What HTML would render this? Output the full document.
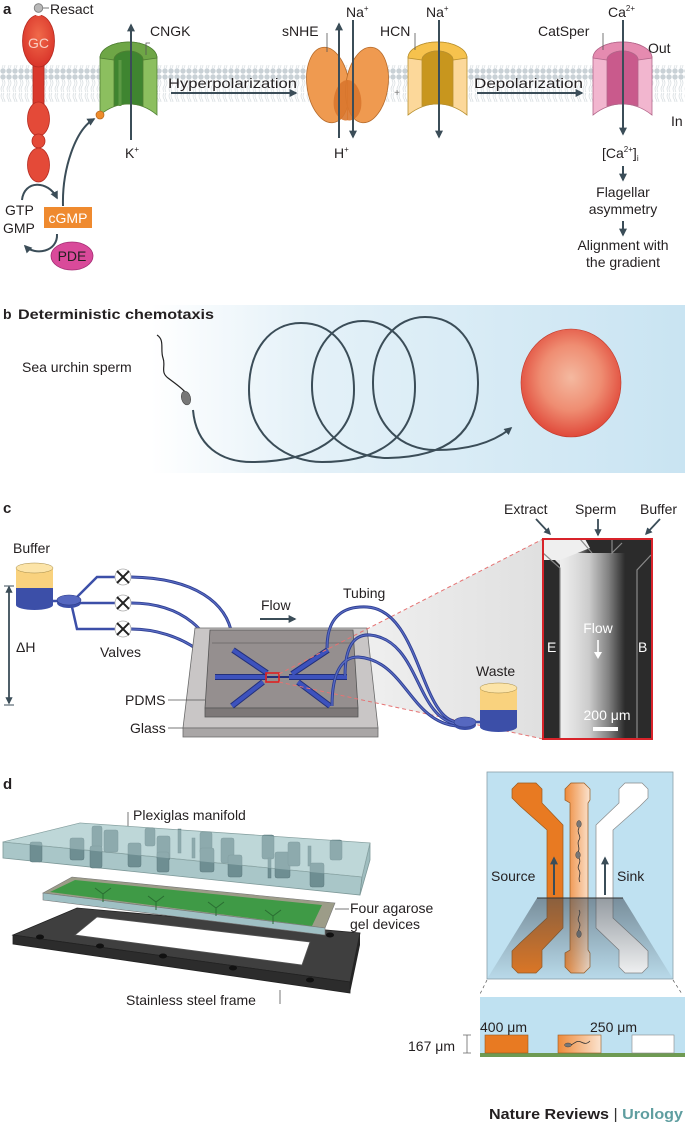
<!DOCTYPE html>
<html><head><meta charset="utf-8"><style>
html,body{margin:0;padding:0;background:#fff}
svg{display:block}
text{font-family:"Liberation Sans",sans-serif;fill:#231f20}
</style></head><body>
<svg width="685" height="1124" viewBox="0 0 685 1124" xmlns="http://www.w3.org/2000/svg">
<defs>
<pattern id="mem" x="0" y="0" width="6" height="37" patternUnits="userSpaceOnUse">
<circle cx="3" cy="3" r="2.7" fill="#c9d1d6"/>
<circle cx="3" cy="34" r="2.7" fill="#c9d1d6"/>
<path d="M2,6 q2,3 0,6 q-2,3 0,6 M4,6 q2,3 0,6 q-2,3 0,6 M2,31 q2,-3 0,-6 q-2,-3 0,-6 M4,31 q2,-3 0,-6 q-2,-3 0,-6" stroke="#d6dce0" stroke-width="0.7" fill="none"/>
</pattern>
<marker id="ah" viewBox="0 0 10 10" refX="8" refY="5" markerWidth="4" markerHeight="4" orient="auto-start-reverse"><path d="M0,0 L10,5 L0,10 z" fill="#3b4d58"/></marker>
<linearGradient id="bgB" x1="0" x2="1" y1="0" y2="0"><stop offset="0.22" stop-color="#ffffff"/><stop offset="0.45" stop-color="#e4f1f8"/><stop offset="1" stop-color="#c9e4f2"/></linearGradient>
<radialGradient id="egg" cx="0.5" cy="0.45" r="0.55"><stop offset="0" stop-color="#f4b9a0"/><stop offset="0.55" stop-color="#ef8d72"/><stop offset="1" stop-color="#e0493a"/></radialGradient>
<radialGradient id="gcg" cx="0.5" cy="0.4" r="0.6"><stop offset="0" stop-color="#f06a4a"/><stop offset="1" stop-color="#d9342a"/></radialGradient>
<linearGradient id="mic" x1="0" x2="1"><stop offset="0" stop-color="#efefef"/><stop offset="0.45" stop-color="#dcdcdc"/><stop offset="0.75" stop-color="#8a8a8a"/><stop offset="1" stop-color="#2b2b2b"/></linearGradient>
<linearGradient id="midch" x1="0" x2="1"><stop offset="0" stop-color="#ee8a3a"/><stop offset="1" stop-color="#fbe3cf"/></linearGradient>
<linearGradient id="shade" x1="0" x2="0" y1="0" y2="1"><stop offset="0" stop-color="#3e4a55" stop-opacity="0.55"/><stop offset="1" stop-color="#3e4a55" stop-opacity="0.05"/></linearGradient>
<linearGradient id="cone" x1="0" x2="1"><stop offset="0" stop-color="#d6d6d6" stop-opacity="0.2"/><stop offset="1" stop-color="#d8d8d8" stop-opacity="0.8"/></linearGradient>
</defs>

<!-- ===== PANEL A ===== -->
<text x="3" y="14" font-weight="bold" font-size="15">a</text>
<rect x="0" y="65" width="685" height="37" fill="url(#mem)"/>

<!-- GC -->
<rect x="33" y="60" width="11" height="45" fill="#d9382c" stroke="#b52a20" stroke-width="0.8"/>
<ellipse cx="38.5" cy="41" rx="16" ry="26" fill="url(#gcg)" stroke="#b52a20" stroke-width="0.8"/>
<ellipse cx="38.5" cy="119" rx="11" ry="17" fill="#e44a38" stroke="#b52a20" stroke-width="0.8"/>
<ellipse cx="38.5" cy="141" rx="6.5" ry="7" fill="#e44a38" stroke="#b52a20" stroke-width="0.8"/>
<ellipse cx="38.5" cy="165" rx="11" ry="17" fill="#e44a38" stroke="#b52a20" stroke-width="0.8"/>
<circle cx="38.5" cy="11" r="5" fill="#fff"/>
<circle cx="38.5" cy="8" r="4.3" fill="#b9b9b9" stroke="#777" stroke-width="0.8"/>
<line x1="43" y1="8" x2="49" y2="8" stroke="#555" stroke-width="0.8"/>
<text x="50" y="14" font-size="14">Resact</text>
<text x="38.5" y="48" font-size="14" fill="#f8d0c4" style="fill:#f9cfc2" text-anchor="middle">GC</text>

<!-- CNGK -->
<g>
<path d="M100,115 V58 A28.5,16 0 0 1 157,58 V115 Q144,104 128.5,104 Q113,104 100,115Z" fill="#8cbf5f" stroke="#4f7f33" stroke-width="0.8"/>
<path d="M100,58 A28.5,16 0 0 1 157,58 L143,60 A14.5,9 0 0 0 114,60 Z" fill="#6ea646" stroke="#4f7f33" stroke-width="0.8"/>
<path d="M114,60 A14.5,9 0 0 1 143,60 V106 Q136,104 128.5,104 Q121,104 114,106Z" fill="#3f8530" stroke="#4f7f33" stroke-width="0.8"/>
<line x1="120" y1="60" x2="120" y2="106" stroke="#5c9a45" stroke-width="3"/>
</g>
<line x1="131" y1="140" x2="131" y2="25" stroke="#3b4d58" stroke-width="2" marker-end="url(#ah)"/>
<path d="M146,55 V43 H150" stroke="#555" stroke-width="0.8" fill="none"/>
<text x="150" y="36" font-size="14">CNGK</text>
<text x="125" y="158" font-size="14">K<tspan font-size="8" dy="-6">+</tspan></text>
<circle cx="100" cy="115" r="4" fill="#ee8c2c" stroke="#b5651e" stroke-width="0.7"/>

<!-- cGMP cycle -->
<path d="M63,206 C62,170 75,130 94,119" stroke="#3b4d58" stroke-width="2" fill="none" marker-end="url(#ah)"/>
<path d="M22,200 C24,180 48,180 57,198" stroke="#3b4d58" stroke-width="2" fill="none" marker-end="url(#ah)"/>
<path d="M57,234 C58,252 35,256 25,246" stroke="#3b4d58" stroke-width="2" fill="none" marker-end="url(#ah)"/>
<text x="5" y="215" font-size="14">GTP</text>
<text x="3" y="233" font-size="14">GMP</text>
<rect x="44" y="207" width="48" height="21" fill="#ef8a2f"/>
<text x="68" y="223" font-size="14" text-anchor="middle" style="fill:#fff">cGMP</text>
<ellipse cx="72" cy="256" rx="21" ry="14" fill="#d94a9a" stroke="#a52c74" stroke-width="0.8"/>
<text x="72" y="261" font-size="14" text-anchor="middle">PDE</text>

<!-- Hyperpolarization -->
<text x="168" y="88" font-size="14" textLength="129" lengthAdjust="spacingAndGlyphs">Hyperpolarization</text>
<line x1="171" y1="93" x2="296" y2="93" stroke="#3b4d58" stroke-width="2" marker-end="url(#ah)"/>

<!-- sNHE -->
<ellipse cx="328" cy="85" rx="21" ry="38" fill="#ef9a50" stroke="#b56a2a" stroke-width="0.8" transform="rotate(-8 328 85)"/>
<ellipse cx="367" cy="85" rx="21" ry="38" fill="#ef9a50" stroke="#b56a2a" stroke-width="0.8" transform="rotate(8 367 85)"/>
<path d="M348,80 C338,80 332,95 334,108 C336,118 344,122 348,120 Z" fill="#d9772e" opacity="0.9"/>
<path d="M347,80 C357,80 363,95 361,108 C359,118 351,122 347,120 Z" fill="#d9772e" opacity="0.9"/>
<line x1="339" y1="138" x2="339" y2="24" stroke="#3b4d58" stroke-width="2" marker-end="url(#ah)"/>
<line x1="353" y1="20" x2="353" y2="137" stroke="#3b4d58" stroke-width="2" marker-end="url(#ah)"/>
<path d="M327,52 V33" stroke="#555" stroke-width="0.8"/>
<text x="282" y="36" font-size="14">sNHE</text>
<text x="346" y="17" font-size="14">Na<tspan font-size="8" dy="-6">+</tspan></text>
<text x="334" y="158" font-size="14">H<tspan font-size="8" dy="-6">+</tspan></text>
<text x="397" y="96" font-size="10" text-anchor="middle" style="fill:#777">+</text>

<!-- HCN -->
<path d="M408,115 V58 A29.5,16 0 0 1 467,58 V115 Q453,104 437.5,104 Q422,104 408,115Z" fill="#fcd89a" stroke="#b8902f" stroke-width="0.8"/>
<path d="M408,58 A29.5,16 0 0 1 467,58 L453,60 A15.5,9 0 0 0 422,60 Z" fill="#f6c24d" stroke="#b8902f" stroke-width="0.8"/>
<path d="M422,60 A15.5,9 0 0 1 453,60 V106 Q445,104 437.5,104 Q430,104 422,106Z" fill="#c8961e" stroke="#b8902f" stroke-width="0.8"/>
<line x1="439" y1="20" x2="439" y2="137" stroke="#3b4d58" stroke-width="2" marker-end="url(#ah)"/>
<path d="M415,50 V33" stroke="#555" stroke-width="0.8"/>
<text x="380" y="36" font-size="14">HCN</text>
<text x="426" y="17" font-size="14">Na<tspan font-size="8" dy="-6">+</tspan></text>

<!-- Depolarization -->
<text x="474" y="88" font-size="14" textLength="109" lengthAdjust="spacingAndGlyphs">Depolarization</text>
<line x1="477" y1="93" x2="582" y2="93" stroke="#3b4d58" stroke-width="2" marker-end="url(#ah)"/>

<!-- CatSper -->
<path d="M593,115 V58 A29.5,16 0 0 1 652,58 V115 Q638,104 622.5,104 Q607,104 593,115Z" fill="#f2b6cf" stroke="#b3668a" stroke-width="0.8"/>
<path d="M593,58 A29.5,16 0 0 1 652,58 L638,60 A15.5,9 0 0 0 607,60 Z" fill="#e58bb0" stroke="#b3668a" stroke-width="0.8"/>
<path d="M607,60 A15.5,9 0 0 1 638,60 V106 Q630,104 622.5,104 Q615,104 607,106Z" fill="#c95a8c" stroke="#b3668a" stroke-width="0.8"/>
<line x1="623" y1="20" x2="623" y2="134" stroke="#3b4d58" stroke-width="2" marker-end="url(#ah)"/>
<path d="M603,50 V33" stroke="#555" stroke-width="0.8"/>
<text x="538" y="36" font-size="14">CatSper</text>
<text x="608" y="17" font-size="14">Ca<tspan font-size="8" dy="-6">2+</tspan></text>
<text x="648" y="53" font-size="14">Out</text>
<text x="671" y="126" font-size="14">In</text>
<text x="602" y="158" font-size="14">[Ca<tspan font-size="8" dy="-6">2+</tspan><tspan dy="6">]</tspan><tspan font-size="8" dy="3">i</tspan></text>
<line x1="623" y1="166" x2="623" y2="180" stroke="#3b4d58" stroke-width="2" marker-end="url(#ah)"/>
<text x="623" y="197" font-size="14" text-anchor="middle">Flagellar</text>
<text x="623" y="214" font-size="14" text-anchor="middle">asymmetry</text>
<line x1="623" y1="221" x2="623" y2="235" stroke="#3b4d58" stroke-width="2" marker-end="url(#ah)"/>
<text x="623" y="250" font-size="14" text-anchor="middle">Alignment with</text>
<text x="623" y="267" font-size="14" text-anchor="middle">the gradient</text>

<!-- ===== PANEL B ===== -->
<rect x="0" y="305" width="685" height="168" fill="url(#bgB)"/>
<text x="3" y="319" font-size="14" font-weight="bold">b</text>
<text x="18" y="319" font-size="14" font-weight="bold" textLength="196" lengthAdjust="spacingAndGlyphs">Deterministic chemotaxis</text>
<text x="22" y="372" font-size="14">Sea urchin sperm</text>
<path d="M157,335 C165,340 160,350 163,358 C166,366 160,372 168,378 C176,384 182,388 186,393" stroke="#222" stroke-width="1.2" fill="none"/>
<ellipse cx="186" cy="398" rx="4.5" ry="7" fill="#777" stroke="#444" stroke-width="0.6" transform="rotate(-15 186 398)"/>
<path d="M193,410 C196,445 220,463 255,462 C310,461 354,440 354,390 C354,345 330,323 301,323 C270,323 249,350 249,390 C249,440 290,462 322,462 C375,462 415,440 415,387 C415,345 392,321 363,321 C335,321 312,346 312,386 C312,434 352,458 388,458 C440,457 478,438 478,384 C478,340 455,317 425,317 C396,317 373,343 373,383 C373,427 403,450 435,450 C470,450 494,442 511,428" stroke="#3b4d58" stroke-width="2" fill="none" marker-end="url(#ah)"/>
<ellipse cx="571" cy="383" rx="50" ry="54" fill="url(#egg)" stroke="#c0392b" stroke-width="0.6"/>

<!-- ===== PANEL C ===== -->
<text x="3" y="513" font-size="15" font-weight="bold">c</text>
<!-- cone shading -->
<polygon points="280,674 543,539 543,739 280,682" fill="url(#cone)"/>
<!-- buffer -->
<text x="13" y="553" font-size="14">Buffer</text>
<path d="M16,568 V588 H53 V568 Z" fill="#f9d27e"/>
<path d="M16,588 V605 A18.5,5 0 0 0 53,605 V588 Z" fill="#3c4fa8"/>
<ellipse cx="34.5" cy="568" rx="18.5" ry="5" fill="#fce4a8" stroke="#a48a48" stroke-width="0.5"/>
<line x1="9" y1="587" x2="9" y2="703" stroke="#3b4d58" stroke-width="1.8" marker-end="url(#ah)" marker-start="url(#ah)"/>
<line x1="4" y1="586" x2="14" y2="586" stroke="#3b4d58" stroke-width="1"/>
<line x1="4" y1="705" x2="14" y2="705" stroke="#3b4d58" stroke-width="1"/>
<text x="16" y="652" font-size="14">ΔH</text>
<!-- distributor lines -->
<g stroke="#3c4fa8" stroke-width="2.5" fill="none">
<path d="M77,597 L97,577 L115,577"/>
<path d="M80,603 L115,603"/>
<path d="M72,607 L77,629 L115,629"/>
<path d="M53,601 H60"/>
</g>
<ellipse cx="69" cy="603" rx="12" ry="5" fill="#3c4fa8"/>
<ellipse cx="69" cy="600" rx="12" ry="5" fill="#5668c0" stroke="#2d3c86" stroke-width="0.6"/>
<!-- tubes to chip -->
<g stroke="#2e3f92" stroke-width="3" fill="none">
<path d="M131,577 C190,578 232,600 233,645"/>
<path d="M131,603 C180,603 216,630 218,676"/>
<path d="M131,629 C180,629 228,660 231,705"/>
</g>
<g stroke="#5a6cc4" stroke-width="1.2" fill="none">
<path d="M131,577 C190,578 232,600 233,645"/>
<path d="M131,603 C180,603 216,630 218,676"/>
<path d="M131,629 C180,629 228,660 231,705"/>
</g>
<!-- valves -->
<g stroke="#222" stroke-width="2">
<circle cx="123" cy="577" r="8" fill="#fff" stroke="#aaa" stroke-width="0.8"/>
<path d="M117,571 L129,583 M129,571 L117,583"/>
<circle cx="123" cy="603" r="8" fill="#fff" stroke="#aaa" stroke-width="0.8"/>
<path d="M117,597 L129,609 M129,597 L117,609"/>
<circle cx="123" cy="629" r="8" fill="#fff" stroke="#aaa" stroke-width="0.8"/>
<path d="M117,623 L129,635 M129,623 L117,635"/>
</g>
<text x="100" y="657" font-size="14">Valves</text>
<!-- chip glass -->
<polygon points="195,628 367,628 378,728 183,728" fill="#c9c6c6" stroke="#6a6a6a" stroke-width="0.8"/>
<polygon points="183,728 378,728 378,737 183,737" fill="#a9a6a6" stroke="#6a6a6a" stroke-width="0.8"/>
<!-- PDMS -->
<polygon points="210,630 353,630 358,708 205,708" fill="#958f8f" stroke="#555" stroke-width="0.8"/>
<polygon points="205,708 358,708 358,717 205,717" fill="#7d7878" stroke="#555" stroke-width="0.8"/>
<line x1="212" y1="643" x2="353" y2="643" stroke="#6a6565" stroke-width="0.8"/>
<!-- channels -->
<g stroke="#23307a" stroke-width="6" stroke-linecap="butt">
<line x1="215" y1="677" x2="267" y2="677"/><line x1="289" y1="677" x2="347" y2="677"/>
<line x1="233" y1="650" x2="267" y2="673"/><line x1="328" y1="650" x2="292" y2="674"/>
<line x1="232" y1="706" x2="263" y2="682"/><line x1="330" y1="706" x2="298" y2="682"/>
</g>
<g stroke="#3d52bd" stroke-width="4">
<line x1="215" y1="677" x2="267" y2="677"/><line x1="289" y1="677" x2="347" y2="677"/>
<line x1="233" y1="650" x2="267" y2="673"/><line x1="328" y1="650" x2="292" y2="674"/>
<line x1="232" y1="706" x2="263" y2="682"/><line x1="330" y1="706" x2="298" y2="682"/>
</g>
<line x1="267" y1="677" x2="289" y2="677" stroke="#23307a" stroke-width="2"/>
<rect x="266" y="673" width="13" height="9" fill="none" stroke="#e02020" stroke-width="1.6"/>
<!-- dashed red -->
<line x1="279" y1="674" x2="543" y2="539" stroke="#e57373" stroke-width="1" stroke-dasharray="4,3"/>
<line x1="279" y1="682" x2="543" y2="739" stroke="#e57373" stroke-width="1" stroke-dasharray="4,3"/>
<!-- outlet tubes -->
<g stroke="#2e3f92" stroke-width="3" fill="none">
<path d="M327,648 C327,615 345,606 367,607 C420,610 420,720 458,722"/>
<path d="M345,676 C345,645 355,634 370,635 C420,640 415,718 457,724"/>
<path d="M332,706 C332,672 342,657 358,657 C405,660 410,722 457,726"/>
</g>
<g stroke="#5a6cc4" stroke-width="1.2" fill="none">
<path d="M327,648 C327,615 345,606 367,607 C420,610 420,720 458,722"/>
<path d="M345,676 C345,645 355,634 370,635 C420,640 415,718 457,724"/>
<path d="M332,706 C332,672 342,657 358,657 C405,660 410,722 457,726"/>
</g>
<line x1="168" y1="700" x2="205" y2="700" stroke="#555" stroke-width="0.8"/>
<text x="125" y="705" font-size="14">PDMS</text>
<line x1="168" y1="728" x2="183" y2="728" stroke="#555" stroke-width="0.8"/>
<text x="130" y="733" font-size="14">Glass</text>
<text x="261" y="610" font-size="14">Flow</text>
<line x1="260" y1="619" x2="295" y2="619" stroke="#3b4d58" stroke-width="2" marker-end="url(#ah)"/>
<text x="343" y="598" font-size="14">Tubing</text>
<!-- waste -->
<ellipse cx="465" cy="725" rx="11" ry="5" fill="#3c4fa8"/>
<ellipse cx="465" cy="722" rx="11" ry="5" fill="#5668c0" stroke="#2d3c86" stroke-width="0.6"/>
<line x1="476" y1="722" x2="481" y2="722" stroke="#3c4fa8" stroke-width="2.5"/>
<path d="M480,688 V710 H517 V688 Z" fill="#f9d27e"/>
<path d="M480,710 V727 A18.5,5 0 0 0 517,727 V710 Z" fill="#3c4fa8"/>
<ellipse cx="498.5" cy="688" rx="18.5" ry="5" fill="#fce4a8" stroke="#a48a48" stroke-width="0.5"/>
<text x="476" y="676" font-size="14">Waste</text>
<!-- micrograph -->
<rect x="543" y="539" width="109" height="200" fill="#2b2b2b"/>
<polygon points="543,539 582,539 590,553 590,739 560,739 560,565 543,548" fill="url(#mic)"/>
<rect x="560" y="553" width="65" height="186" fill="url(#mic)" opacity="0.9"/>
<polygon points="543,539 585,539 590,548 560,560 543,560" fill="#efefef"/>
<g stroke="#8a8a8a" stroke-width="1.2" fill="none">
<path d="M543,553 L560,568 V739"/>
<path d="M580,539 L592,553"/>
<path d="M612,539 V553 L622,543"/>
<path d="M651,555 L637,570 V739"/>
</g>
<rect x="543" y="539" width="109" height="200" fill="none" stroke="#d8232a" stroke-width="2"/>
<text x="547" y="652" font-size="14" style="fill:#fff">E</text>
<text x="638" y="652" font-size="14" style="fill:#fff">B</text>
<text x="598" y="633" font-size="14" text-anchor="middle" style="fill:#fff">Flow</text>
<line x1="598" y1="640" x2="598" y2="656" stroke="#fff" stroke-width="1.6"/>
<path d="M594,652 L598,659 L602,652 Z" fill="#fff"/>
<text x="607" y="720" font-size="14" text-anchor="middle" style="fill:#fff">200 μm</text>
<rect x="593" y="727" width="25" height="4" fill="#fff"/>
<text x="504" y="514" font-size="14">Extract</text>
<text x="575" y="514" font-size="14">Sperm</text>
<text x="640" y="514" font-size="14">Buffer</text>
<line x1="536" y1="519" x2="550" y2="534" stroke="#3b4d58" stroke-width="1.8" marker-end="url(#ah)"/>
<line x1="598" y1="519" x2="598" y2="535" stroke="#3b4d58" stroke-width="1.8" marker-end="url(#ah)"/>
<line x1="660" y1="519" x2="646" y2="534" stroke="#3b4d58" stroke-width="1.8" marker-end="url(#ah)"/>

<!-- ===== PANEL D ===== -->
<text x="3" y="789" font-size="15" font-weight="bold">d</text>
<!-- manifold -->
<polygon points="3,842 80,823 370,843 362,877" fill="#b9d3d4" stroke="#7d9898" stroke-width="0.8"/>
<polygon points="3,842 362,877 360,895 3,858" fill="#a9c6c8" stroke="#7d9898" stroke-width="0.8"/>
<polygon points="362,877 370,843 370,860 360,895" fill="#9fbdbf" stroke="#7d9898" stroke-width="0.8"/>
<g fill="#6e8e92" stroke="#5c7a7e" stroke-width="0.5">
<rect x="30" y="842" width="12" height="20" rx="2"/>
<rect x="70" y="838" width="14" height="22" rx="2"/>
<rect x="92" y="826" width="10" height="22" rx="2"/>
<rect x="90" y="846" width="12" height="22" rx="2"/>
<rect x="104" y="830" width="14" height="22" rx="2"/>
<rect x="128" y="843" width="13" height="24" rx="2"/>
<rect x="145" y="828" width="10" height="18" rx="2"/>
<rect x="157" y="836" width="13" height="24" rx="2"/>
<rect x="178" y="829" width="3" height="24"/>
<rect x="157" y="852" width="12" height="20" rx="2"/>
<rect x="192" y="838" width="3" height="20"/>
<rect x="200" y="832" width="12" height="22" rx="2"/>
<rect x="200" y="848" width="14" height="24" rx="2"/>
<rect x="221" y="838" width="13" height="25" rx="2"/>
<rect x="228" y="855" width="14" height="22" rx="2"/>
<rect x="262" y="835" width="12" height="24" rx="2"/>
<rect x="268" y="858" width="3" height="20"/>
<rect x="275" y="852" width="15" height="26" rx="2"/>
<rect x="288" y="842" width="12" height="24" rx="2"/>
<rect x="308" y="846" width="3" height="20"/>
<rect x="310" y="863" width="14" height="24" rx="2"/>
<rect x="330" y="840" width="12" height="20" rx="2"/>
</g>
<polygon points="3,842 80,823 370,843 362,877" fill="#c9e0e0" opacity="0.35"/>
<line x1="128" y1="812" x2="128" y2="826" stroke="#555" stroke-width="0.8"/>
<text x="133" y="820" font-size="14">Plexiglas manifold</text>
<!-- frame -->
<polygon points="13,935 77,908 360,933 350,982" fill="#3f3f3f" stroke="#222" stroke-width="0.8"/>
<polygon points="13,935 350,982 350,993 13,944" fill="#2c2c2c" stroke="#222" stroke-width="0.8"/>
<polygon points="350,982 360,933 360,945 350,993" fill="#252525"/>
<polygon points="75,935 97,917 310,942 302,965" fill="#fff" stroke="#555" stroke-width="0.8"/>
<g fill="#111">
<ellipse cx="40" cy="937" rx="4" ry="2.5"/><ellipse cx="100" cy="946" rx="4" ry="2.5"/>
<ellipse cx="163" cy="956" rx="4" ry="2.5"/><ellipse cx="233" cy="968" rx="4" ry="2.5"/>
<ellipse cx="310" cy="980" rx="4" ry="2.5"/><ellipse cx="330" cy="935" rx="4" ry="2.5"/>
</g>
<!-- gel -->
<polygon points="43,893 72,877 335,903 325,928" fill="#9c9c88" stroke="#777" stroke-width="0.6"/>
<polygon points="43,893 325,928 325,935 43,900" fill="#9fc0c4" stroke="#777" stroke-width="0.6"/>
<polygon points="50,892 75,880 322,905 312,926" fill="#3f9a46"/>
<g stroke="#2a6d32" stroke-width="1" fill="none">
<path d="M95,888 l8,6 l8,-6 M103,894 v8 M148,896 l8,6 l8,-6 M156,902 v8 M208,902 l8,6 l8,-6 M216,908 v8 M265,910 l8,6 l8,-6 M273,916 v8"/>
</g>
<line x1="335" y1="909" x2="349" y2="909" stroke="#555" stroke-width="0.8"/>
<text x="350" y="913" font-size="14">Four agarose</text>
<text x="350" y="929" font-size="14">gel devices</text>
<line x1="280" y1="990" x2="280" y2="1004" stroke="#555" stroke-width="0.8"/>
<text x="126" y="1005" font-size="14">Stainless steel frame</text>

<!-- right device -->
<rect x="487" y="772" width="186" height="207" fill="#bfe1f1" stroke="#8aa0aa" stroke-width="0.8"/>
<path d="M518,783 H536 L542,789 V803 L563,825 V928 L542,950 V967 L536,973 H518 L512,967 V951 L520,943 L547,918 V830 L520,806 L512,798 V789 Z" fill="#e87a22" stroke="#9a5a1e" stroke-width="0.7"/>
<path d="M571,783 H584 L590,789 V800 L588,803 V950 L590,953 V967 L584,973 H571 L565,967 V953 L570,950 V803 L565,800 V789 Z" fill="url(#midch)" stroke="#9a5a1e" stroke-width="0.7"/>
<path d="M625,783 H642 L648,789 V798 L640,806 L613,830 V918 L640,943 L648,951 V967 L642,973 H625 L619,967 V950 L596,928 V825 L619,803 V789 Z" fill="#fff" stroke="#888" stroke-width="0.7"/>
<g stroke="#333" stroke-width="0.8" fill="none">
<path d="M579,828 c-3,5 3,8 0,12 c-3,4 2,8 -1,12"/><path d="M579,858 c3,5 -3,8 0,12 c3,4 -2,8 1,12"/><path d="M579,910 c3,4 -3,8 0,12 c3,4 -2,8 0,10"/>
</g>
<g fill="#777" stroke="#333" stroke-width="0.4">
<ellipse cx="579" cy="824" rx="2.3" ry="3.5"/><ellipse cx="578" cy="855" rx="2.3" ry="3.5"/><ellipse cx="579" cy="934" rx="2.3" ry="3.5"/>
</g>
<polygon points="537,898 623,898 673,979 487,979" fill="url(#shade)"/>
<line x1="537" y1="898" x2="623" y2="898" stroke="#333" stroke-width="1"/>
<line x1="554" y1="895" x2="554" y2="858" stroke="#3b4d58" stroke-width="2" marker-end="url(#ah)"/>
<line x1="605" y1="895" x2="605" y2="858" stroke="#3b4d58" stroke-width="2" marker-end="url(#ah)"/>
<text x="491" y="881" font-size="14">Source</text>
<text x="617" y="881" font-size="14">Sink</text>
<line x1="487" y1="980" x2="480" y2="994" stroke="#555" stroke-width="0.7" stroke-dasharray="3,3"/>
<line x1="673" y1="980" x2="682" y2="994" stroke="#555" stroke-width="0.7" stroke-dasharray="3,3"/>
<!-- cross-section -->
<rect x="480" y="997" width="205" height="58" fill="#bfe1f1"/>
<rect x="480" y="1053" width="205" height="4" fill="#6e9a52"/>
<rect x="485" y="1035" width="43" height="18" fill="#e87a22" stroke="#9a5a1e" stroke-width="0.6"/>
<rect x="558" y="1035" width="43" height="18" fill="url(#midch)" stroke="#9a5a1e" stroke-width="0.6"/>
<rect x="632" y="1035" width="42" height="18" fill="#fff" stroke="#888" stroke-width="0.6"/>
<ellipse cx="568" cy="1045" rx="3.5" ry="2" fill="#777" stroke="#333" stroke-width="0.4"/>
<path d="M571,1045 c4,-2 6,-5 10,-3 c4,2 6,2 9,-1" stroke="#333" stroke-width="0.8" fill="none"/>
<text x="480" y="1032" font-size="14">400 μm</text>
<text x="590" y="1032" font-size="14">250 μm</text>
<text x="408" y="1051" font-size="14">167 μm</text>
<path d="M463,1035 H471 M467,1035 V1053 M463,1053 H471" stroke="#666" stroke-width="0.8" fill="none"/>

<!-- footer -->
<text x="489" y="1119" font-size="15" font-weight="bold" textLength="194" lengthAdjust="spacingAndGlyphs">Nature Reviews <tspan font-weight="normal" style="fill:#333">|</tspan> <tspan style="fill:#5f9ea0">Urology</tspan></text>
</svg>
</body></html>
